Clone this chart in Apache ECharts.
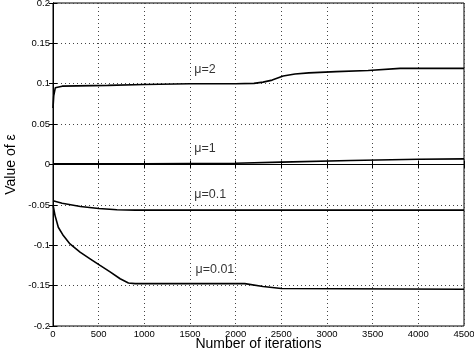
<!DOCTYPE html>
<html>
<head>
<meta charset="utf-8">
<script src="https://cdn.jsdelivr.net/npm/echarts@6/dist/echarts.min.js"></script>
<style>html,body{margin:0;padding:0;background:#fff}#c{width:474px;height:352px}</style>
</head>
<body>
<div id="c"></div>
<script>
// Data
const xTicks = [0, 500, 1000, 1500, 2000, 2500, 3000, 3500, 4000, 4500];
const yTicks = [-0.2, -0.15, -0.1, -0.05, 0, 0.05, 0.1, 0.15, 0.2];

const mu2 = [[0,0.07],[8,0.085],[25,0.095],[100,0.097],[600,0.098],[1000,0.099],[1500,0.1],[2000,0.1],[2200,0.1005],[2300,0.102],[2400,0.1045],[2520,0.1095],[2650,0.112],[2800,0.1135],[3100,0.115],[3450,0.1165],[3800,0.119],[4500,0.119]];
const mu1 = [[0,0.001],[1000,0.001],[2000,0.0015],[2500,0.003],[3260,0.005],[4000,0.0065],[4500,0.007]];
const mu01 = [[0,-0.045],[100,-0.048],[300,-0.052],[500,-0.0545],[700,-0.056],[900,-0.0565],[4500,-0.0565]];
const mu001 = [[0,-0.05],[22,-0.063],[58,-0.0777],[113,-0.088],[186,-0.0983],[296,-0.1085],[406,-0.1168],[515,-0.125],[625,-0.133],[735,-0.1415],[826,-0.1468],[900,-0.1475],[2100,-0.1475],[2300,-0.151],[2500,-0.1535],[4500,-0.1545]];

const curveLabels = ['μ=2', 'μ=1', 'μ=0.1', 'μ=0.01'];
const labelPos = [[1546,0.118],[1546,0.0203],[1546,-0.0377],[1560,-0.130]];

const font = 'Liberation Sans, Arial, sans-serif';
const chart = echarts.init(document.getElementById('c'));

function lineSeries(data){
  return {type:'line', data:data, showSymbol:false, symbol:'none', smooth:false,
    lineStyle:{color:'#000', width:1.6}, silent:true, xAxisIndex:0, yAxisIndex:0};
}

chart.setOption({
  animation:false,
  backgroundColor:'#fff',
  grid:{left:53, right:10, top:3, bottom:26, containLabel:false, outerBoundsMode:'none',
    show:true, borderColor:'#000', borderWidth:1, backgroundColor:'transparent'},
  xAxis:[{
    type:'value', min:xTicks[0], max:xTicks[xTicks.length-1], interval:500,
    name:'Number of iterations', nameLocation:'middle', nameGap:11, nameMoveOverlap:false,
    nameTextStyle:{fontFamily:font, fontSize:14, color:'#000'},
    axisLine:{show:true, lineStyle:{color:'#000', width:1}},
    axisTick:{show:true, inside:true, length:4, lineStyle:{color:'#000'}},
    axisLabel:{fontFamily:font, fontSize:9.5, color:'#000', margin:3, formatter:v=>String(v)},
    splitLine:{show:true, lineStyle:{color:'#444', type:[1,3], width:1}}
  },{
    type:'value', position:'top', min:xTicks[0], max:xTicks[xTicks.length-1], interval:500,
    axisLine:{show:true, lineStyle:{color:'#000'}},
    axisTick:{show:true, inside:true, length:4, lineStyle:{color:'#000'}},
    axisLabel:{show:false}, splitLine:{show:false}
  }],
  yAxis:[{
    type:'value', min:yTicks[0], max:yTicks[yTicks.length-1], interval:0.05,
    name:'Value of ε', nameLocation:'middle', nameGap:35, nameRotate:90, nameMoveOverlap:false,
    nameTextStyle:{fontFamily:font, fontSize:14, color:'#000'},
    axisLine:{show:true, lineStyle:{color:'#000', width:1}},
    axisTick:{show:true, inside:true, length:4, lineStyle:{color:'#000'}},
    axisLabel:{fontFamily:font, fontSize:9.5, color:'#000', margin:3, formatter:v=>String(Math.round(v*100)/100)},
    splitLine:{show:true, lineStyle:{color:'#444', type:[1,3], width:1}}
  },{
    type:'value', position:'right', min:yTicks[0], max:yTicks[yTicks.length-1], interval:0.05,
    axisLine:{show:true, lineStyle:{color:'#000'}},
    axisTick:{show:true, inside:true, length:4, lineStyle:{color:'#000'}},
    axisLabel:{show:false}, splitLine:{show:false}
  }],
  series:[
    lineSeries(mu2), lineSeries(mu1), lineSeries(mu01), lineSeries(mu001),
    {type:'scatter', symbolSize:0, silent:true, xAxisIndex:0, yAxisIndex:0,
     data: labelPos.map((p,i)=>({value:p, name:curveLabels[i]})),
     label:{show:true, position:'right', distance:0, formatter:p=>p.name,
       fontFamily:font, fontSize:12.5, color:'#000'}}
  ]
});
</script>
</body>
</html>
